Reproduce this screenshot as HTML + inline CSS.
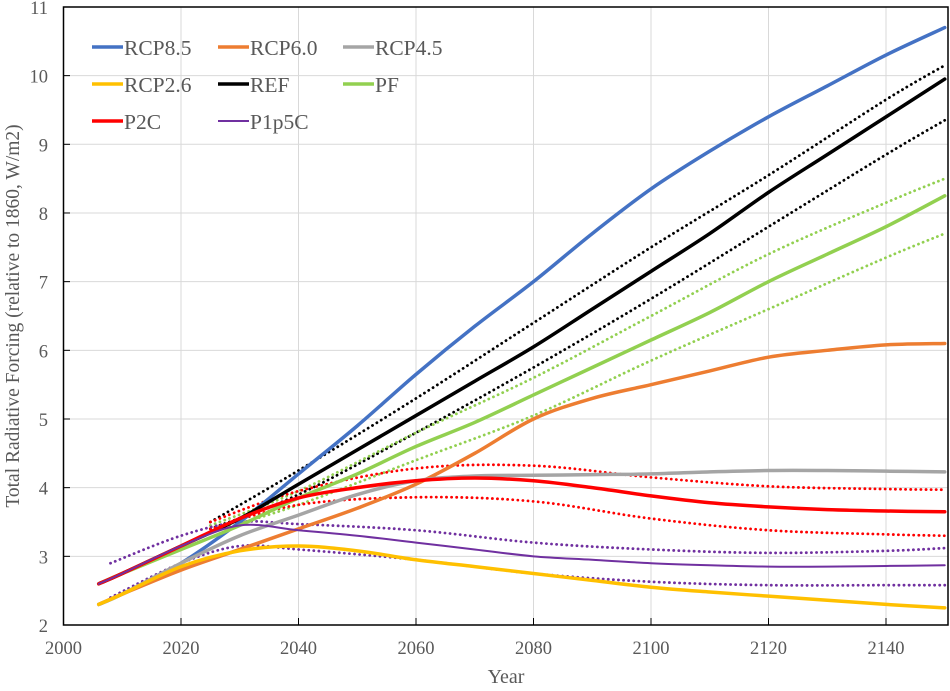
<!DOCTYPE html>
<html><head><meta charset="utf-8"><style>
body{margin:0;background:#fff}
svg, svg text{font-family:"Liberation Serif","Times New Roman",serif !important;fill:#595959}
</style></head><body>
<svg id="c" width="950" height="686" font-family="Liberation Serif, serif"></svg>
<script>
const years=[2006,2010,2020,2030,2040,2050,2060,2070,2080,2090,2100,2110,2120,2130,2140,2150];
const rcp85=[2.3,2.45,2.9,3.5,4.2,4.9,5.65,6.35,7.0,7.7,8.35,8.9,9.4,9.85,10.3,10.7];
const rcp60=[2.3,2.45,2.8,3.1,3.4,3.7,4.05,4.5,5.0,5.3,5.5,5.7,5.9,6.0,6.08,6.1];
const rcp45=[2.3,2.45,2.9,3.3,3.6,3.9,4.1,4.17,4.18,4.19,4.2,4.23,4.25,4.25,4.24,4.23];
const rcp26=[2.3,2.45,2.85,3.08,3.15,3.08,2.95,2.85,2.75,2.65,2.55,2.48,2.42,2.36,2.3,2.25];
const ref=[2.6,2.75,3.15,3.55,4.05,4.55,5.05,5.55,6.05,6.6,7.15,7.7,8.3,8.85,9.4,9.95];
const pf=[2.6,2.75,3.1,3.45,3.85,4.2,4.6,4.95,5.35,5.75,6.15,6.55,7.0,7.4,7.8,8.25];
const p2c=[2.6,2.75,3.15,3.55,3.85,4.0,4.1,4.14,4.1,4.0,3.88,3.78,3.72,3.68,3.66,3.65];
const p15=[2.6,2.75,3.15,3.45,3.38,3.3,3.2,3.1,3.0,2.95,2.9,2.87,2.85,2.85,2.86,2.87];
const dYears=[2025,2040,2060,2080,2100,2120,2140,2150];
const refHi=[3.5,4.25,5.3,6.4,7.5,8.55,9.65,10.15];
const refLo=[3.4,3.9,4.8,5.75,6.75,7.8,8.85,9.35];
const pfHi=[3.45,3.95,4.8,5.6,6.5,7.4,8.15,8.5];
const pfLo=[3.35,3.75,4.4,5.05,5.85,6.6,7.35,7.7];
const p2cHi=[3.5,3.95,4.28,4.32,4.15,4.02,3.98,3.97];
const p2cLo=[3.4,3.75,3.86,3.8,3.55,3.38,3.32,3.3];
const pYears=[2008,2020,2030,2040,2060,2080,2100,2120,2140,2150];
const p15Hi=[2.9,3.3,3.5,3.47,3.38,3.2,3.1,3.05,3.08,3.12];
const p15Lo=[2.4,2.9,3.15,3.1,2.95,2.75,2.63,2.58,2.58,2.58];
const xTicks=[2000,2020,2040,2060,2080,2100,2120,2140];
const yTicks=[2,3,4,5,6,7,8,9,10,11];
const X=y=>63.5+(y-2000)*117.5/20, Y=v=>625-(v-2)*68.67;
const s=document.getElementById('c'),NS='http://www.w3.org/2000/svg';
function el(t,a,p){const e=document.createElementNS(NS,t);for(const k in a)e.setAttribute(k,a[k]);if(t==='text')e.setAttribute('font-family','Liberation Serif, serif');(p||s).appendChild(e);return e;}
xTicks.forEach(t=>{const g=el('line',{x1:X(t),x2:X(t),y1:7,y2:625,stroke:'#d9d9d9'});

el('line',{x1:X(t),x2:X(t),y1:618,y2:625,stroke:'#000'});
const tx=el('text',{x:X(t),y:654,'text-anchor':'middle','font-size':'18.5'});tx.textContent=t;
});
yTicks.forEach(t=>{const g=el('line',{x1:63.5,x2:948,y1:Y(t),y2:Y(t),stroke:'#d9d9d9'});

el('line',{x1:63.5,x2:70,y1:Y(t),y2:Y(t),stroke:'#000'});
const tx=el('text',{x:48,y:Y(t)+7,'text-anchor':'end','font-size':'18.5'});tx.textContent=t;
});
const frame=el('rect',{x:63.5,y:7,width:884.5,height:618,fill:'none',stroke:'#000','stroke-width':1.5});

function path(xs,vs){const p=xs.map((x,i)=>[X(x),Y(vs[i])]);let d='M'+p[0];
for(let i=0;i<p.length-1;i++){const a=p[i-1]||p[i],b=p[i],c=p[i+1],e=p[i+2]||c;
d+=` C${b[0]+(c[0]-a[0])/6},${b[1]+(c[1]-a[1])/6} ${c[0]-(e[0]-b[0])/6},${c[1]-(e[1]-b[1])/6} ${c[0]},${c[1]}`;}return d;}
function line(xs,vs,col,w,dot,name){const e=el('path',{d:path(xs,vs),fill:'none',stroke:col,'stroke-width':w,'stroke-dasharray':dot?'0.1 5':'none','stroke-linecap':'round'});
}
line(dYears,refHi,'#000',2.8,1,'ref-upper-dotted');line(dYears,refLo,'#000',2.8,1,'ref-lower-dotted');
line(dYears,pfHi,'#92d050',2.8,1,'pf-upper-dotted');line(dYears,pfLo,'#92d050',2.8,1,'pf-lower-dotted');
line(dYears,p2cHi,'#ff0000',2.8,1,'p2c-upper-dotted');line(dYears,p2cLo,'#ff0000',2.8,1,'p2c-lower-dotted');
line(pYears,p15Hi,'#7030a0',2.8,1,'p1p5c-upper-dotted');line(pYears,p15Lo,'#7030a0',2.8,1,'p1p5c-lower-dotted');
line(years,rcp85,'#4472c4',3.5,0,'rcp85-line');line(years,rcp60,'#ed7d31',3.5,0,'rcp60-line');
line(years,rcp45,'#a5a5a5',3.5,0,'rcp45-line');line(years,rcp26,'#ffc000',3.5,0,'rcp26-line');
line(years,ref,'#000',3.5,0,'ref-line');line(years,pf,'#92d050',3.5,0,'pf-line');
line(years,p2c,'#ff0000',3.5,0,'p2c-line');line(years,p15,'#7030a0',2,0,'p1p5c-line');
const leg=[['RCP8.5','#4472c4',92,47,3.5],['RCP6.0','#ed7d31',218,47,3.5],['RCP4.5','#a5a5a5',343,47,3.5],
['RCP2.6','#ffc000',92,84,3.5],['REF','#000',218,84,3.5],['PF','#92d050',343,84,3.5],
['P2C','#ff0000',92,121,3.5],['P1p5C','#7030a0',218,121,2]];
leg.forEach(l=>{const g=el('g',{});
el('line',{x1:l[2],x2:l[2]+31,y1:l[3],y2:l[3],stroke:l[1],'stroke-width':l[4]},g);
const t=el('text',{x:l[2]+32,y:l[3]+8,'font-size':'21.5'},g);t.textContent=l[0];});
const xt=el('text',{x:506,y:683,'text-anchor':'middle','font-size':'20'});xt.textContent='Year';

const yt=el('text',{x:0,y:0,'text-anchor':'middle','font-size':'19.5',transform:'translate(19,316) rotate(-90)'});
yt.textContent='Total Radiative Forcing (relative to 1860, W/m2)';

</script></body></html>
